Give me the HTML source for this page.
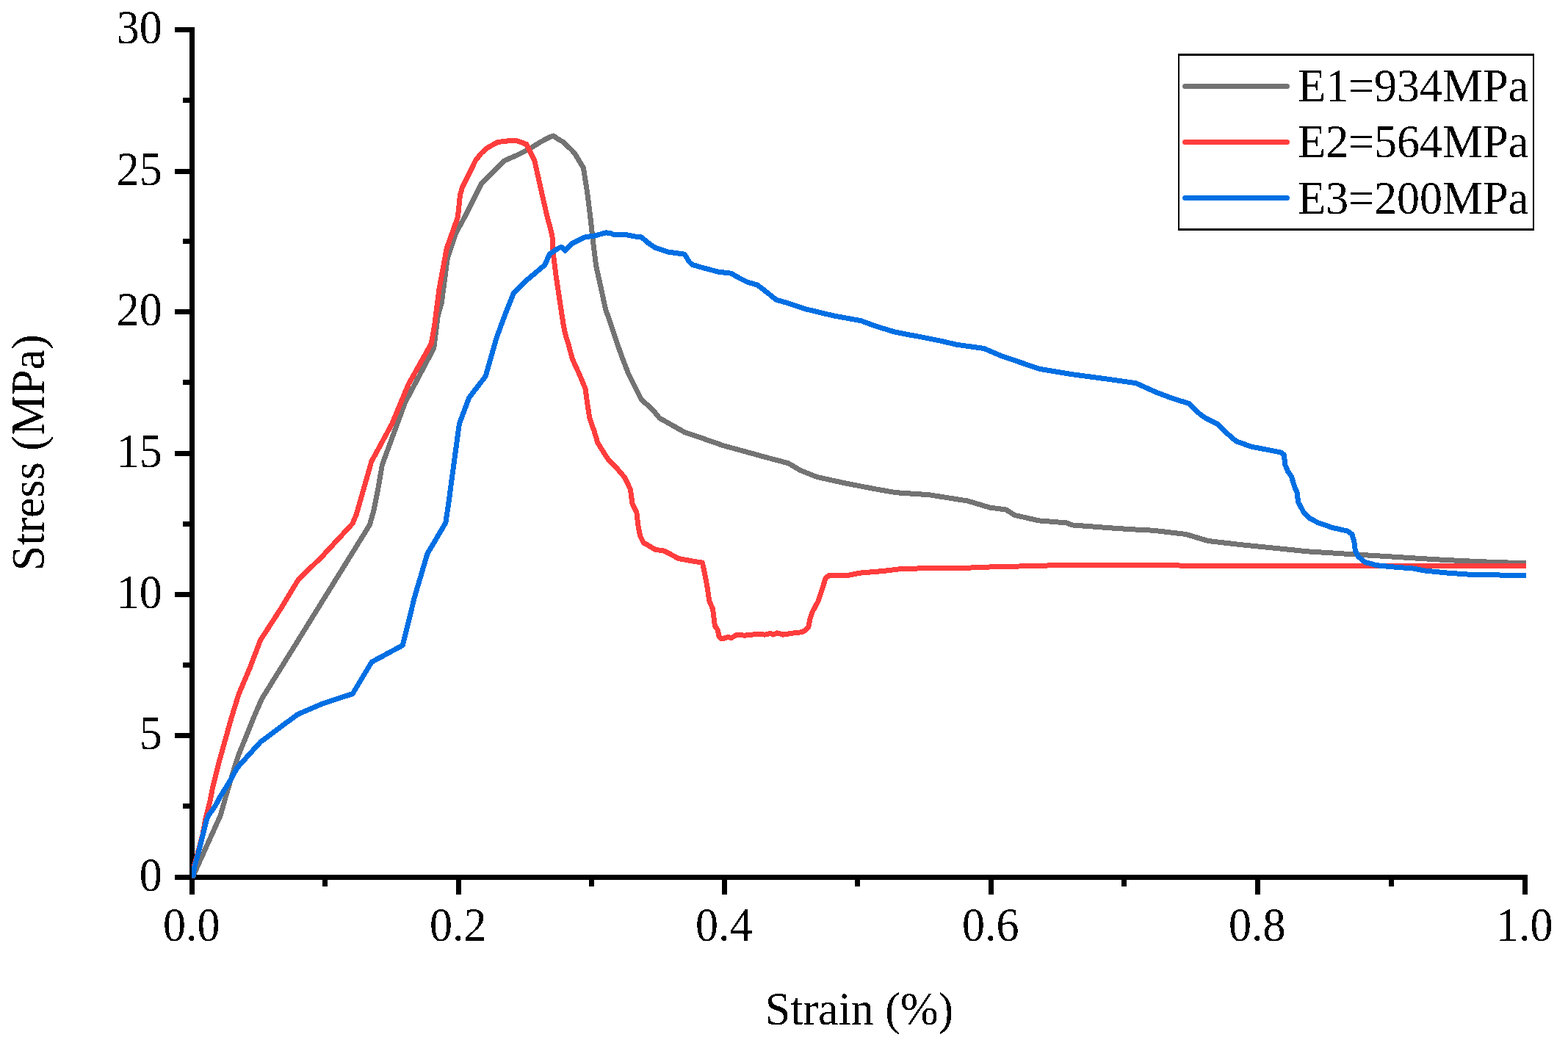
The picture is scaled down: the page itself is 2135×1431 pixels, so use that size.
<!DOCTYPE html>
<html><head><meta charset="utf-8"><title>Stress-Strain</title>
<style>html,body{margin:0;padding:0;background:#fff;}body{width:2135px;height:1431px;overflow:hidden;}svg{display:block;}</style>
</head><body>
<svg width="2135" height="1431" viewBox="0 0 2135 1431">
<defs><clipPath id="plotclip"><rect x="261" y="0" width="1817" height="1195.5"/></clipPath><filter id="crisp" x="-10%" y="-10%" width="120%" height="120%"><feComponentTransfer><feFuncA type="discrete" tableValues="0 1"/></feComponentTransfer></filter></defs>
<rect width="2135" height="1431" fill="#fff"/>
<g fill="#000">
<rect x="258" y="37" width="7" height="1161"/>
<rect x="258" y="1191" width="1822" height="7"/>
<rect x="238" y="1191" width="24" height="7"/>
<rect x="249" y="1094" width="13" height="7"/>
<rect x="238" y="998" width="24" height="7"/>
<rect x="249" y="902" width="13" height="7"/>
<rect x="238" y="806" width="24" height="7"/>
<rect x="249" y="710" width="13" height="7"/>
<rect x="238" y="614" width="24" height="7"/>
<rect x="249" y="517" width="13" height="7"/>
<rect x="238" y="421" width="24" height="7"/>
<rect x="249" y="325" width="13" height="7"/>
<rect x="238" y="230" width="24" height="7"/>
<rect x="249" y="133" width="13" height="7"/>
<rect x="238" y="37" width="24" height="7"/>
<rect x="258" y="1194" width="7" height="24"/>
<rect x="439" y="1194" width="7" height="13"/>
<rect x="621" y="1194" width="7" height="24"/>
<rect x="802" y="1194" width="7" height="13"/>
<rect x="983" y="1194" width="7" height="24"/>
<rect x="1164" y="1194" width="7" height="13"/>
<rect x="1346" y="1194" width="7" height="24"/>
<rect x="1527" y="1194" width="7" height="13"/>
<rect x="1709" y="1194" width="7" height="24"/>
<rect x="1891" y="1194" width="7" height="13"/>
<rect x="2073" y="1194" width="7" height="24"/>
</g>
<text transform="translate(220.8,1212.8) scale(1,1.04)" text-anchor="end" font-family="Liberation Serif, Times New Roman, serif" filter="url(#crisp)" font-size="62">0</text>
<text transform="translate(220.8,1019.8) scale(1,1.04)" text-anchor="end" font-family="Liberation Serif, Times New Roman, serif" filter="url(#crisp)" font-size="62">5</text>
<text transform="translate(220.8,827.8) scale(1,1.04)" text-anchor="end" font-family="Liberation Serif, Times New Roman, serif" filter="url(#crisp)" font-size="62">10</text>
<text transform="translate(220.8,635.8) scale(1,1.04)" text-anchor="end" font-family="Liberation Serif, Times New Roman, serif" filter="url(#crisp)" font-size="62">15</text>
<text transform="translate(220.8,442.8) scale(1,1.04)" text-anchor="end" font-family="Liberation Serif, Times New Roman, serif" filter="url(#crisp)" font-size="62">20</text>
<text transform="translate(220.8,251.8) scale(1,1.04)" text-anchor="end" font-family="Liberation Serif, Times New Roman, serif" filter="url(#crisp)" font-size="62">25</text>
<text transform="translate(220.8,58.8) scale(1,1.04)" text-anchor="end" font-family="Liberation Serif, Times New Roman, serif" filter="url(#crisp)" font-size="62">30</text>
<text transform="translate(260.7,1281.2) scale(1,1.06)" text-anchor="middle" font-family="Liberation Serif, Times New Roman, serif" filter="url(#crisp)" font-size="62">0.0</text>
<text transform="translate(623.7,1281.2) scale(1,1.06)" text-anchor="middle" font-family="Liberation Serif, Times New Roman, serif" filter="url(#crisp)" font-size="62">0.2</text>
<text transform="translate(985.7,1281.2) scale(1,1.06)" text-anchor="middle" font-family="Liberation Serif, Times New Roman, serif" filter="url(#crisp)" font-size="62">0.4</text>
<text transform="translate(1348.7,1281.2) scale(1,1.06)" text-anchor="middle" font-family="Liberation Serif, Times New Roman, serif" filter="url(#crisp)" font-size="62">0.6</text>
<text transform="translate(1711.7,1281.2) scale(1,1.06)" text-anchor="middle" font-family="Liberation Serif, Times New Roman, serif" filter="url(#crisp)" font-size="62">0.8</text>
<text transform="translate(2075.7,1281.2) scale(1,1.06)" text-anchor="middle" font-family="Liberation Serif, Times New Roman, serif" filter="url(#crisp)" font-size="62">1.0</text>
<text transform="translate(1170,1395) scale(1,1.025)" text-anchor="middle" font-family="Liberation Serif, Times New Roman, serif" filter="url(#crisp)" font-size="62" fill="#000">Strain (%)</text>
<text transform="translate(59.5,616.3) rotate(-90) scale(1,1.025)" text-anchor="middle" font-family="Liberation Serif, Times New Roman, serif" filter="url(#crisp)" font-size="62" fill="#000">Stress (MPa)</text>
<g clip-path="url(#plotclip)">
<polyline points="262.0,1197.0 264.2,1190.0 300.3,1110.0 308.0,1082.5 318.7,1046.9 325.8,1025.5 336.5,999.4 346.0,975.6 356.5,951.5 503.5,714.5 509.3,693.3 515.8,660.0 520.3,633.1 551.6,548.0 590.7,474.2 596.3,429.5 601.1,413.2 609.2,352.4 620.4,317.9 630.5,299.7 640.7,279.4 654.8,251.1 671.1,234.8 687.3,218.6 703.5,211.5 719.7,203.4 735.9,193.3 749.0,186.5 753.6,185.0 760.0,189.5 766.3,193.0 776.4,202.4 782.3,208.4 794.4,228.6 799.5,261.1 803.6,293.5 807.6,330.0 811.7,362.4 818.5,392.8 824.5,421.0 831.4,440.3 839.0,463.7 847.3,487.2 855.7,509.0 864.1,525.8 872.5,542.6 879.2,549.3 887.5,556.5 898.0,569.2 910.0,576.0 932.5,588.7 954.9,596.2 984.9,606.7 1014.9,614.9 1044.9,623.2 1073.3,630.7 1089.8,640.4 1112.3,649.4 1149.8,657.7 1190.0,665.5 1220.0,670.7 1264.9,673.7 1317.4,682.0 1347.4,691.0 1369.9,694.0 1381.8,701.5 1414.8,708.9 1452.3,711.9 1459.8,714.9 1510.0,718.7 1540.0,720.7 1570.0,722.2 1615.0,727.5 1645.0,736.5 1690.0,741.7 1735.0,746.2 1780.0,750.8 1838.1,754.5 1896.2,758.1 1954.2,761.7 2012.3,764.6 2078.0,766.9" fill="none" stroke="#737373" stroke-width="7" stroke-linejoin="round" stroke-linecap="butt" shape-rendering="crispEdges"/>
<polyline points="261.5,1197.0 264.5,1178.5 270.0,1159.0 276.0,1136.0 280.0,1114.0 286.2,1090.0 289.0,1075.0 297.3,1041.0 305.6,1011.3 313.9,981.6 321.1,957.8 325.8,943.4 340.4,908.9 354.9,870.8 360.4,862.6 382.2,829.0 405.8,789.9 409.4,786.3 440.0,756.2 480.1,712.8 485.5,699.8 496.8,660.0 505.7,628.6 533.7,577.1 556.1,523.4 587.4,467.5 591.9,440.7 598.1,392.9 608.2,338.2 623.4,295.6 626.5,265.2 629.5,255.1 639.3,235.5 647.5,218.5 655.0,209.0 662.5,202.0 677.5,193.5 691.3,191.9 702.5,191.3 716.6,196.3 721.7,206.5 727.8,218.6 732.6,240.0 740.1,273.5 745.2,295.3 751.9,320.5 752.7,340.6 756.9,374.2 761.9,407.7 767.0,441.3 770.0,456.0 773.8,468.0 779.4,488.9 788.6,509.0 797.0,529.1 799.5,547.6 802.9,569.4 808.8,586.2 813.8,602.9 822.2,616.4 828.9,626.4 839.4,637.0 850.8,650.2 858.3,666.2 861.1,686.0 866.8,697.4 868.7,714.3 871.5,729.4 876.2,738.9 882.8,742.6 892.3,748.3 904.5,750.2 924.3,760.6 939.4,763.4 956.4,766.2 960.2,784.2 963.0,799.2 965.8,818.1 970.6,829.4 973.4,852.1 977.2,857.7 979.1,867.2 982.8,870.0 991.2,867.4 995.7,868.6 1003.5,864.1 1013.5,865.2 1030.3,863.5 1041.5,864.1 1049.3,862.4 1052.7,864.1 1058.3,861.9 1066.1,864.1 1080.6,861.9 1091.8,860.7 1096.3,858.5 1100.7,854.0 1103.0,842.9 1106.3,832.8 1114.2,818.3 1118.6,804.8 1122.5,792.5 1124.2,787.0 1129.8,783.0 1156.6,783.0 1170.0,780.2 1202.5,777.5 1225.0,774.8 1270.0,773.3 1315.0,773.3 1360.0,771.5 1405.0,770.7 1450.0,769.2 1500.0,769.2 1630.0,770.2 1800.0,770.3 2078.0,770.4" fill="none" stroke="#FF3D3D" stroke-width="7" stroke-linejoin="round" stroke-linecap="butt" shape-rendering="crispEdges"/>
<polyline points="262.3,1197.0 265.2,1178.5 270.6,1159.2 276.4,1136.2 281.4,1116.0 284.0,1110.0 292.9,1097.7 299.7,1084.9 311.6,1065.9 323.1,1045.2 354.6,1010.3 405.2,972.7 440.0,957.7 480.1,944.7 506.1,901.4 548.3,878.6 564.6,812.5 581.9,754.0 606.8,711.8 611.2,682.5 615.5,650.0 625.4,577.1 638.8,541.3 661.2,512.3 676.1,460.0 687.3,429.4 699.4,399.0 715.6,382.8 727.8,372.6 742.0,360.5 748.1,346.3 758.2,339.2 764.3,336.2 769.3,341.2 778.2,332.0 796.5,322.9 810.7,320.8 824.8,316.8 831.9,317.8 836.0,319.8 851.2,319.4 863.3,321.8 873.5,322.9 881.6,330.0 891.7,337.0 910.0,343.1 932.2,346.2 938.3,356.3 942.4,360.3 955.0,364.0 977.5,370.0 995.5,372.2 1007.4,379.0 1017.9,384.2 1031.4,388.0 1044.9,398.5 1056.9,408.2 1074.9,413.4 1097.4,420.9 1134.8,429.9 1172.3,436.7 1194.8,444.9 1217.3,451.7 1239.8,456.2 1250.0,458.0 1280.0,464.0 1302.5,469.2 1339.9,474.5 1362.4,484.2 1414.9,502.2 1459.8,509.7 1504.8,515.7 1546.8,521.7 1560.0,527.7 1575.4,534.6 1598.4,543.1 1618.4,549.2 1633.8,563.8 1641.5,569.2 1658.4,577.7 1670.7,590.0 1683.0,600.7 1704.5,608.4 1721.4,611.5 1744.5,616.1 1748.3,619.2 1749.9,633.0 1753.7,642.2 1758.3,648.4 1763.0,663.8 1766.0,669.9 1767.6,683.7 1775.2,697.6 1782.9,705.3 1794.5,711.6 1813.4,718.2 1835.2,723.2 1841.0,727.6 1843.9,737.8 1845.3,749.4 1849.7,758.1 1858.4,765.3 1874.4,769.7 1896.2,771.9 1925.2,774.1 1939.7,777.0 1968.8,779.9 1997.8,782.0 2026.8,782.8 2078.0,783.5" fill="none" stroke="#006FE3" stroke-width="7" stroke-linejoin="round" stroke-linecap="butt" shape-rendering="crispEdges"/>
</g>
<rect x="1604" y="73" width="485" height="241" fill="#fff"/>
<g fill="#000"><rect x="1604" y="73" width="485" height="3"/><rect x="1604" y="311" width="485" height="3"/><rect x="1604" y="73" width="2" height="241"/><rect x="2087" y="73" width="2" height="241"/></g>
<line x1="1613.5" y1="117.5" x2="1752.5" y2="117.5" stroke="#737373" stroke-width="7" stroke-linecap="round"/>
<text transform="translate(1767.3,138.0) scale(1,1.025)" font-family="Liberation Serif, Times New Roman, serif" filter="url(#crisp)" font-size="62" fill="#000">E1=934MPa</text>
<line x1="1613.5" y1="193.5" x2="1752.5" y2="193.5" stroke="#FF3D3D" stroke-width="7" stroke-linecap="round"/>
<text transform="translate(1767.3,214.4) scale(1,1.025)" font-family="Liberation Serif, Times New Roman, serif" filter="url(#crisp)" font-size="62" fill="#000">E2=564MPa</text>
<line x1="1613.5" y1="269.5" x2="1752.5" y2="269.5" stroke="#006FE3" stroke-width="7" stroke-linecap="round"/>
<text transform="translate(1767.3,290.8) scale(1,1.025)" font-family="Liberation Serif, Times New Roman, serif" filter="url(#crisp)" font-size="62" fill="#000">E3=200MPa</text>
</svg>
</body></html>
